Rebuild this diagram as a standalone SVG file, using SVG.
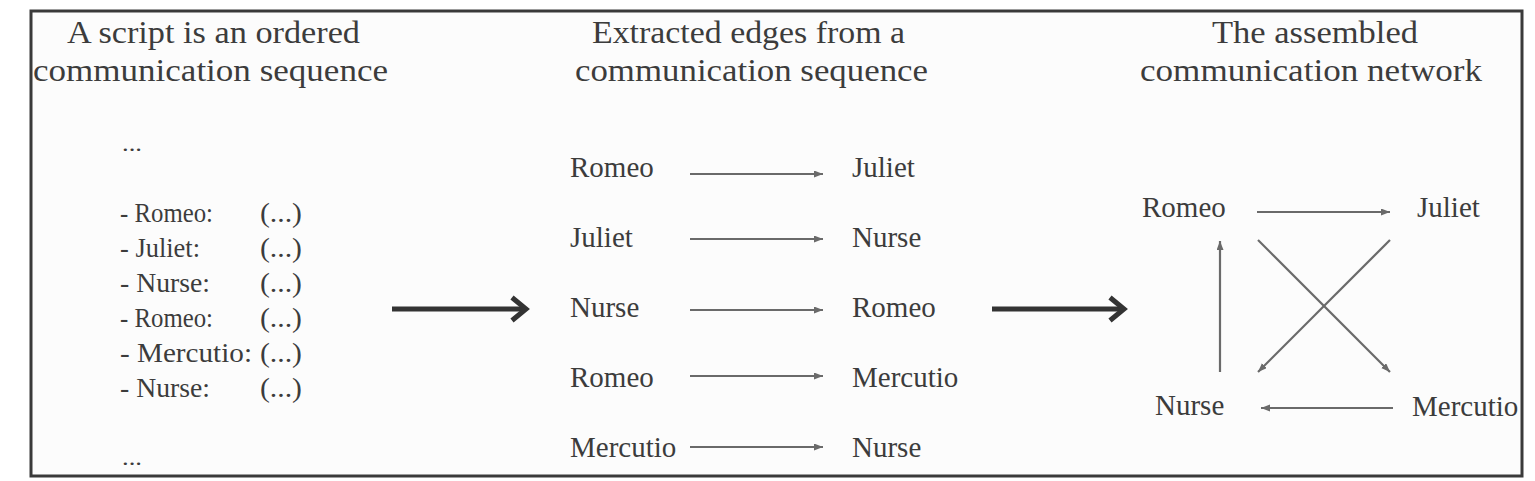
<svg xmlns="http://www.w3.org/2000/svg" width="1535" height="481" viewBox="0 0 1535 481">
<style>
text{font-family:"Liberation Serif","Times New Roman",serif;fill:#3c3c3c}
.title{font-size:31px}
.list{font-size:27.5px}
.lbl{font-size:29px}
.dots{font-size:22px}
.edge{stroke:#6a6a6a;stroke-width:2.2;fill:none;marker-end:url(#ah)}
.big{stroke:#333;stroke-width:5;fill:none}
</style>
<defs>
<marker id="ah" markerUnits="userSpaceOnUse" markerWidth="10" markerHeight="8" refX="9" refY="3.5" orient="auto">
<path d="M0,0 L9,3.5 L0,7 z" fill="#6a6a6a"/>
</marker>
<clipPath id="clipBox"><rect x="31" y="11" width="1489" height="465"/></clipPath>
</defs>
<rect width="1535" height="481" fill="#ffffff"/>
<rect x="31" y="11" width="1491" height="465" fill="#fcfcfc" stroke="#3a3a3a" stroke-width="3"/>

<g id="titles">
<text class="title" x="67" y="43" textLength="293" lengthAdjust="spacingAndGlyphs">A script is an ordered</text>
<text class="title" x="33" y="81" textLength="355" lengthAdjust="spacingAndGlyphs">communication sequence</text>
<text class="title" x="592" y="43" textLength="313" lengthAdjust="spacingAndGlyphs">Extracted edges from a</text>
<text class="title" x="575" y="81" textLength="353" lengthAdjust="spacingAndGlyphs">communication sequence</text>
<text class="title" x="1212" y="43" textLength="206" lengthAdjust="spacingAndGlyphs">The assembled</text>
<text class="title" x="1140" y="81" textLength="342" lengthAdjust="spacingAndGlyphs">communication network</text>
</g>

<g id="script">
<text class="dots" x="122" y="151" textLength="20" lengthAdjust="spacingAndGlyphs">...</text>
<text class="list" x="120" y="222" textLength="93" lengthAdjust="spacingAndGlyphs">- Romeo:</text>
<text class="list" x="260" y="222" textLength="42" lengthAdjust="spacingAndGlyphs">(...)</text>
<text class="list" x="120" y="257" textLength="80" lengthAdjust="spacingAndGlyphs">- Juliet:</text>
<text class="list" x="260" y="257" textLength="42" lengthAdjust="spacingAndGlyphs">(...)</text>
<text class="list" x="120" y="292" textLength="90" lengthAdjust="spacingAndGlyphs">- Nurse:</text>
<text class="list" x="260" y="292" textLength="42" lengthAdjust="spacingAndGlyphs">(...)</text>
<text class="list" x="120" y="327" textLength="93" lengthAdjust="spacingAndGlyphs">- Romeo:</text>
<text class="list" x="260" y="327" textLength="42" lengthAdjust="spacingAndGlyphs">(...)</text>
<text class="list" x="120" y="362" textLength="132" lengthAdjust="spacingAndGlyphs">- Mercutio:</text>
<text class="list" x="260" y="362" textLength="42" lengthAdjust="spacingAndGlyphs">(...)</text>
<text class="list" x="120" y="397" textLength="90" lengthAdjust="spacingAndGlyphs">- Nurse:</text>
<text class="list" x="260" y="397" textLength="42" lengthAdjust="spacingAndGlyphs">(...)</text>
<text class="dots" x="122" y="465" textLength="20" lengthAdjust="spacingAndGlyphs">...</text>
</g>

<g id="edge-list">
<text class="lbl" x="570" y="177">Romeo</text>
<text class="lbl" x="852" y="177">Juliet</text>
<text class="lbl" x="570" y="247">Juliet</text>
<text class="lbl" x="852" y="247">Nurse</text>
<text class="lbl" x="570" y="317">Nurse</text>
<text class="lbl" x="852" y="317">Romeo</text>
<text class="lbl" x="570" y="387">Romeo</text>
<text class="lbl" x="852" y="387">Mercutio</text>
<text class="lbl" x="570" y="457">Mercutio</text>
<text class="lbl" x="852" y="457">Nurse</text>
</g>

<g id="node-romeo"><text class="lbl" x="1142" y="217">Romeo</text></g>
<g id="node-juliet"><text class="lbl" x="1417" y="217">Juliet</text></g>
<g id="node-nurse"><text class="lbl" x="1155" y="415">Nurse</text></g>
<g id="node-mercutio" clip-path="url(#clipBox)"><text class="lbl" x="1412" y="416">Mercutio</text></g>

<g id="connectors">
<path class="big" d="M392,309 H524"/>
<path class="big" d="M512,297.5 L526,309 L512,320.5" stroke-linejoin="miter"/>
<path class="big" d="M992,309 H1122"/>
<path class="big" d="M1110,297.5 L1124,309 L1110,320.5" stroke-linejoin="miter"/>

<line class="edge" x1="690" y1="174" x2="823" y2="174"/>
<line class="edge" x1="690" y1="239" x2="823" y2="239"/>
<line class="edge" x1="690" y1="310" x2="823" y2="310"/>
<line class="edge" x1="690" y1="376" x2="823" y2="376"/>
<line class="edge" x1="690" y1="447" x2="823" y2="447"/>

<line class="edge" x1="1257" y1="212" x2="1390" y2="212"/>
<line class="edge" x1="1220" y1="372" x2="1220" y2="241"/>
<line class="edge" x1="1258" y1="240" x2="1390" y2="372"/>
<line class="edge" x1="1390" y1="240" x2="1258" y2="372"/>
<line class="edge" x1="1393" y1="408" x2="1261" y2="408"/>
</g>
</svg>
